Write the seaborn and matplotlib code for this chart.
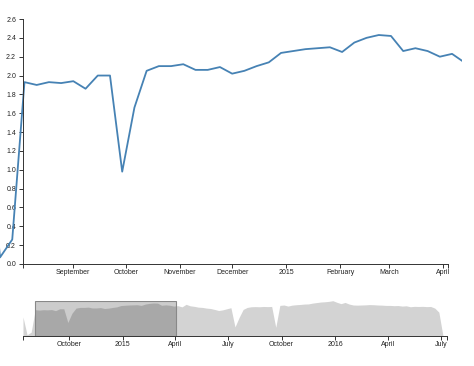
import numpy as np
import matplotlib
matplotlib.use("Agg")
import matplotlib.pyplot as plt
import matplotlib.dates as mdates
from matplotlib.ticker import FormatStrFormatter, MultipleLocator
from matplotlib.transforms import Bbox, TransformedBbox
import seaborn as sns
import pandas as pd

# weekly readings, Jul 2014 - Jul 2016
dates = pd.date_range("2014-07-14", periods=105, freq="7D")
values = [
    1.39, 0.07, 0.26, 1.93, 1.90, 1.93, 1.92, 1.94, 1.86, 2.00,
    2.00, 0.98, 1.66, 2.05, 2.10, 2.10, 2.12, 2.06, 2.06, 2.09,
    2.02, 2.05, 2.10, 2.14, 2.24, 2.26, 2.28, 2.29, 2.30, 2.25,
    2.35, 2.40, 2.43, 2.42, 2.26, 2.29, 2.26, 2.20, 2.23, 2.14,
    2.33, 2.22, 2.18, 2.12, 2.10, 2.05, 2.02, 1.95, 1.87, 1.92,
    2.00, 2.08, 0.65, 1.35, 1.95, 2.10, 2.15, 2.16, 2.15, 2.17,
    2.16, 2.17, 0.62, 2.25, 2.28, 2.20, 2.27, 2.30, 2.32, 2.35,
    2.36, 2.42, 2.46, 2.50, 2.52, 2.55, 2.60, 2.48, 2.38, 2.47,
    2.35, 2.28, 2.27, 2.28, 2.29, 2.31, 2.30, 2.28, 2.27, 2.25,
    2.25, 2.23, 2.24, 2.20, 2.22, 2.15, 2.18, 2.17, 2.18, 2.16,
    2.17, 2.05, 1.75, 0.0, 0.0,
]

# brush selection shown in the context chart = focus domain
brush_start = pd.Timestamp("2014-08-03 08:00")
brush_end = pd.Timestamp("2015-04-03 12:00")

data = pd.DataFrame({"date": dates, "value": values})

sns.set_style("ticks")
plt.rcParams["font.family"] = ["Liberation Sans", "DejaVu Sans"]

W, H = 474, 366
fig = plt.figure(figsize=(W / 100, H / 100), dpi=100)
ax = fig.add_axes([23.3 / W, (H - 264) / H, 424.4 / W, 245 / H])
ax2 = fig.add_axes([23 / W, (H - 335.7) / H, 424 / W, 35 / H])


def month_fmt(x, pos=None):
    d = mdates.num2date(x)
    return str(d.year) if d.month == 1 else d.strftime("%B")


# focus chart
sns.lineplot(data=data, x="date", y="value", ax=ax, color="steelblue", linewidth=1.3)
line = ax.lines[0]
line.set_clip_path(None)
line.set_clip_box(TransformedBbox(Bbox.from_extents(0, 0, 462 / W, 1), fig.transFigure))

ax.set_xlim(brush_start, brush_end)
ax.set_ylim(0, max(values))
ax.yaxis.set_major_locator(MultipleLocator(0.2))
ax.yaxis.set_major_formatter(FormatStrFormatter("%.1f"))
ax.xaxis.set_major_locator(mdates.MonthLocator())
ax.xaxis.set_major_formatter(month_fmt)
ax.set_xticks([mdates.date2num(brush_start), mdates.date2num(brush_end)], minor=True)
ax.set_xlabel("")
ax.set_ylabel("")
sns.despine(ax=ax)

# context chart
ax2.fill_between(data["date"], data["value"], color="#d3d3d3", linewidth=0)
ax2.axvspan(brush_start, brush_end, facecolor=(0, 0, 0, 0.2), edgecolor="#888888", linewidth=0.8)
ax2.set_xlim(dates[0], dates[-1])
ax2.set_ylim(0, max(values))
ax2.xaxis.set_major_locator(mdates.MonthLocator(bymonth=[1, 4, 7, 10]))
ax2.xaxis.set_major_formatter(month_fmt)
ax2.set_xticks([mdates.date2num(dates[0]), mdates.date2num(dates[-1])], minor=True)
ax2.set_yticks([])
sns.despine(ax=ax2, left=True)

for a in (ax, ax2):
    for s in a.spines.values():
        s.set_linewidth(0.7)
        s.set_color("#333333")
    a.tick_params(which="both", length=2.6, width=0.7, color="#333333",
                  labelsize=5, labelcolor="#222222")
    a.tick_params(axis="x", pad=1.2)
    a.tick_params(axis="y", pad=2.6)
    a.patch.set_alpha(0)

plt.savefig("out.png", dpi=100)
